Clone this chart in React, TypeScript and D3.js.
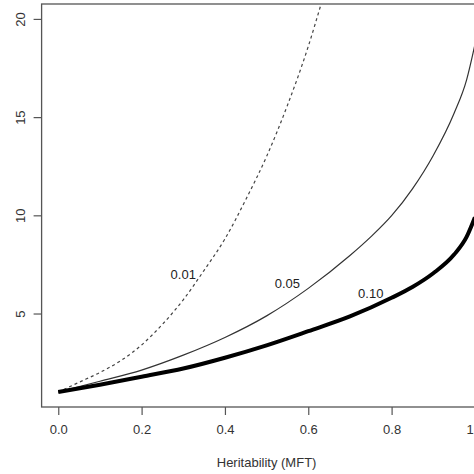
import * as d3 from 'd3'
import {useRef, useEffect} from 'react'

// heritability grid (x) and relative values
const xs01 = [0, 0.05, 0.1, 0.15, 0.2, 0.25, 0.3, 0.35, 0.4, 0.45, 0.5, 0.55, 0.6, 0.63, 0.66]
const ys01 = [1.0, 1.5, 2.0, 2.6, 3.4, 4.45, 5.7, 7.2, 8.8, 10.8, 13.0, 15.6, 18.6, 20.7, 22.9]

const xs05 = [0, 0.1, 0.2, 0.3, 0.4, 0.5, 0.6, 0.7, 0.75, 0.8, 0.85, 0.9, 0.95, 0.98, 1.0]
const ys05 = [1.0, 1.55, 2.12, 2.88, 3.78, 4.88, 6.28, 7.95, 8.9, 9.98, 11.35, 13.05, 15.2, 16.9, 18.7]

const xs10 = [0, 0.1, 0.2, 0.3, 0.4, 0.5, 0.6, 0.7, 0.8, 0.85, 0.9, 0.95, 0.98, 1.0]
const ys10 = [1.0, 1.37, 1.78, 2.2, 2.75, 3.38, 4.1, 4.85, 5.8, 6.35, 7.05, 8.0, 8.9, 9.9]

const xTicks = [0, 0.2, 0.4, 0.6, 0.8, 1.0]
const yTicks = [5, 10, 15, 20]

const curveLabels = ['0.01', '0.05', '0.10']
const labelPos = [[0.3, 7.0], [0.55, 6.55], [0.75, 6.0]]

export default function App() {
  const svgRef = useRef(null)

  useEffect(() => {
    const width = 474
    const height = 474
    const svg = d3.select(svgRef.current)
    svg.selectAll('*').remove()

    const x = d3.scaleLinear().domain([-0.04, 1.04]).range([41.6, 491.6])
    const y = d3.scaleLinear().domain([0.24, 20.76]).range([407, 4])

    svg.append('defs').append('clipPath').attr('id', 'plotclip')
      .append('rect')
      .attr('x', x(-0.04)).attr('y', y(20.76))
      .attr('width', x(1.04) - x(-0.04)).attr('height', y(0.24) - y(20.76))

    // box
    svg.append('rect')
      .attr('x', x(-0.04)).attr('y', y(20.76))
      .attr('width', x(1.04) - x(-0.04)).attr('height', y(0.24) - y(20.76))
      .attr('fill', 'none').attr('stroke', '#555').attr('stroke-width', 1.3)

    const xAxis = d3.axisBottom(x).tickValues(xTicks).tickSize(8).tickPadding(10)
      .tickFormat(d3.format('.1f'))
    const gx = svg.append('g').attr('transform', `translate(0,${y(0.24)})`).call(xAxis)
    gx.select('.domain').remove()
    gx.selectAll('line').attr('stroke', '#555').attr('stroke-width', 1.2)
    gx.selectAll('text').attr('font-family', 'Liberation Sans, Arial, sans-serif')
      .attr('font-size', 13).attr('fill', '#333')

    const yAxis = d3.axisLeft(y).tickValues(yTicks).tickSize(8).tickFormat(d3.format('d'))
    const gy = svg.append('g').attr('transform', `translate(${x(-0.04)},0)`).call(yAxis)
    gy.select('.domain').remove()
    gy.selectAll('line').attr('stroke', '#555').attr('stroke-width', 1.2)
    gy.selectAll('text')
      .attr('font-family', 'Liberation Sans, Arial, sans-serif')
      .attr('font-size', 13).attr('fill', '#333')
      .attr('text-anchor', 'middle').attr('dy', null).attr('x', null)
      .attr('transform', 'translate(-21,0) rotate(-90)')
      .attr('dominant-baseline', 'central')

    svg.append('text')
      .attr('x', (x(-0.04) + x(1.04)) / 2).attr('y', 467)
      .attr('text-anchor', 'middle')
      .attr('font-family', 'Liberation Sans, Arial, sans-serif')
      .attr('font-size', 13).attr('fill', '#333')
      .text('Heritability (MFT)')

    const line = d3.line<[number, number]>().x(d => x(d[0])).y(d => y(d[1])).curve(d3.curveMonotoneX)
    const plot = svg.append('g').attr('clip-path', 'url(#plotclip)')

    const series = [
      {xs: xs01, ys: ys01, w: 1.2, dash: '3,3', color: '#444'},
      {xs: xs05, ys: ys05, w: 1.2, dash: null, color: '#333'},
      {xs: xs10, ys: ys10, w: 4, dash: null, color: '#000'},
    ]
    series.forEach(s => {
      plot.append('path')
        .datum(s.xs.map((v, i) => [v, s.ys[i]] as [number, number]))
        .attr('d', line)
        .attr('fill', 'none')
        .attr('stroke', s.color)
        .attr('stroke-width', s.w)
        .attr('stroke-dasharray', s.dash)
    })

    curveLabels.forEach((t, i) => {
      svg.append('text')
        .attr('x', x(labelPos[i][0])).attr('y', y(labelPos[i][1]))
        .attr('text-anchor', 'middle').attr('dominant-baseline', 'central')
        .attr('font-family', 'Liberation Sans, Arial, sans-serif')
        .attr('font-size', 13).attr('fill', '#222')
        .text(t)
    })

    svg.attr('width', width).attr('height', height)
  }, [])

  return <svg ref={svgRef} style={{position: 'absolute', left: 0, top: 0, background: '#fff'}}></svg>
}
